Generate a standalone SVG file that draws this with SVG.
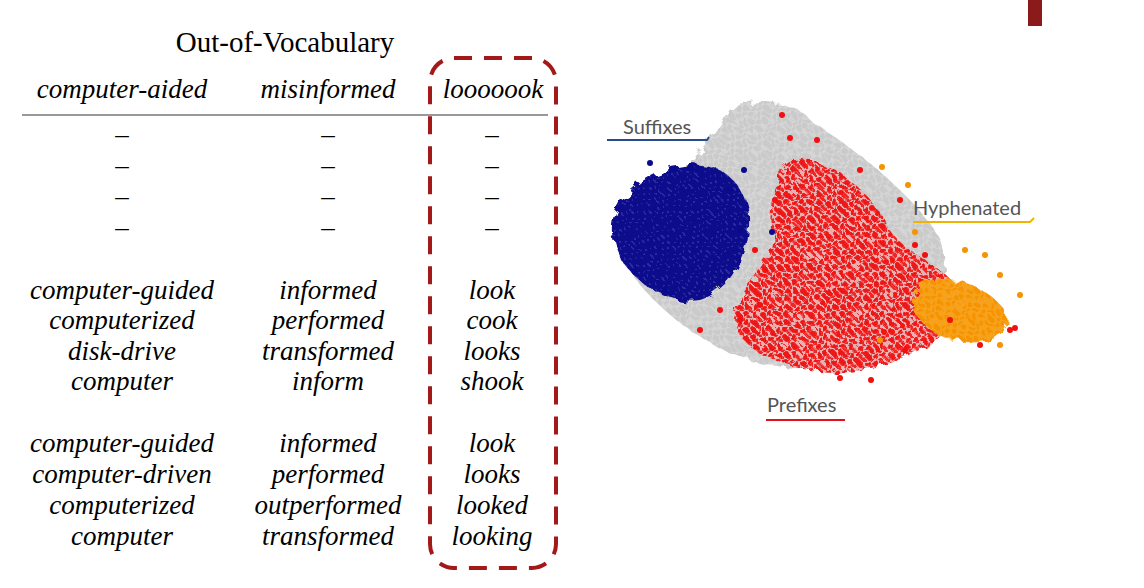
<svg xmlns="http://www.w3.org/2000/svg" width="1144" height="588" viewBox="0 0 1144 588">
<style>
.t{font-family:"Liberation Serif",serif;font-size:27px;font-style:italic;fill:#000;text-anchor:middle}
.lb{font-family:Lato,"Liberation Sans",sans-serif;font-size:20px;fill:#555}
</style>
<defs>
<pattern id="pg" width="7" height="7" patternUnits="userSpaceOnUse"><rect width="7" height="7" fill="#d6d6d6"/><circle cx="3.5" cy="3.5" r="3" fill="#cacaca"/></pattern>
<pattern id="pb" width="6" height="6" patternUnits="userSpaceOnUse"><rect width="6" height="6" fill="#0a0a8c"/><circle cx="2" cy="2" r="1.3" fill="#2b2ba0"/></pattern>
<pattern id="pr" width="8" height="8" patternUnits="userSpaceOnUse"><rect width="8" height="8" fill="#e8b0b0"/><circle cx="3" cy="3" r="3" fill="#f01010"/><circle cx="7" cy="7" r="2.6" fill="#f31a1a"/></pattern>
<pattern id="po" width="7" height="7" patternUnits="userSpaceOnUse"><rect width="7" height="7" fill="#f7a21e"/><circle cx="3" cy="3" r="2.5" fill="#f59300"/></pattern>
<filter id="rough" x="-10%" y="-10%" width="120%" height="120%"><feTurbulence type="fractalNoise" baseFrequency="0.09" numOctaves="2" seed="3"/><feDisplacementMap in="SourceGraphic" scale="14"/></filter>
</defs>
<rect width="1144" height="588" fill="#fff"/>
<rect x="1028" y="0" width="14" height="26" fill="#8b1a1a"/>
<g id="table">
<text x="285" y="52" style="font-family:'Liberation Serif',serif;font-size:29px;text-anchor:middle">Out-of-Vocabulary</text>
<text class="t" x="122" y="98">computer-aided</text>
<text class="t" x="328" y="98">misinformed</text>
<text class="t" x="493" y="98">looooook</text>
<line x1="22" y1="115" x2="548" y2="115" stroke="#777" stroke-width="1.5"/>
<text class="t" x="122" y="143">–</text><text class="t" x="328" y="143">–</text><text class="t" x="492" y="143">–</text>
<text class="t" x="122" y="174">–</text><text class="t" x="328" y="174">–</text><text class="t" x="492" y="174">–</text>
<text class="t" x="122" y="205">–</text><text class="t" x="328" y="205">–</text><text class="t" x="492" y="205">–</text>
<text class="t" x="122" y="236">–</text><text class="t" x="328" y="236">–</text><text class="t" x="492" y="236">–</text>
<text class="t" x="122" y="299">computer-guided</text><text class="t" x="328" y="299">informed</text><text class="t" x="492" y="299">look</text>
<text class="t" x="122" y="329">computerized</text><text class="t" x="328" y="329">performed</text><text class="t" x="492" y="329">cook</text>
<text class="t" x="122" y="360">disk-drive</text><text class="t" x="328" y="360">transformed</text><text class="t" x="492" y="360">looks</text>
<text class="t" x="122" y="390">computer</text><text class="t" x="328" y="390">inform</text><text class="t" x="492" y="390">shook</text>
<text class="t" x="122" y="452">computer-guided</text><text class="t" x="328" y="452">informed</text><text class="t" x="492" y="452">look</text>
<text class="t" x="122" y="483">computer-driven</text><text class="t" x="328" y="483">performed</text><text class="t" x="492" y="483">looks</text>
<text class="t" x="122" y="514">computerized</text><text class="t" x="328" y="514">outperformed</text><text class="t" x="492" y="514">looked</text>
<text class="t" x="122" y="545">computer</text><text class="t" x="328" y="545">transformed</text><text class="t" x="492" y="545">looking</text>
<rect x="430" y="58" width="126" height="510" rx="24" fill="none" stroke="#a31818" stroke-width="4" stroke-dasharray="18 12"/>
</g>
<g id="plot">
<path filter="url(#rough)" d="M738 104 C770 96 800 105 812 122 C840 140 870 160 905 195 C935 225 955 255 940 290 C925 330 880 360 820 368 C770 372 720 352 690 330 C655 305 625 275 614 235 C612 205 640 180 690 165 C705 150 720 120 738 104 Z" fill="url(#pg)"/>
<path filter="url(#rough)" d="M612 225 C615 190 650 168 690 164 C720 165 745 180 748 215 C750 255 730 290 700 300 C670 305 640 285 625 265 C615 250 611 238 612 225 Z" fill="url(#pb)"/>
<path filter="url(#rough)" d="M790 160 C830 155 870 190 890 230 C910 260 960 270 960 300 C960 340 900 365 840 372 C790 372 745 355 735 325 C728 295 760 285 770 250 C775 215 770 170 790 160 Z" fill="url(#pr)" opacity="0.95"/>
<path filter="url(#rough)" d="M920 285 C945 270 985 285 1005 310 C1015 330 995 345 965 342 C935 340 912 318 912 300 Z" fill="url(#po)"/>
<g fill="#f01010">
<circle cx="782" cy="115" r="3"/><circle cx="790" cy="138" r="3"/><circle cx="817" cy="140" r="3"/><circle cx="860" cy="170" r="3"/><circle cx="900" cy="200" r="3"/><circle cx="915" cy="245" r="3"/><circle cx="925" cy="255" r="3"/><circle cx="1015" cy="328" r="3"/><circle cx="1010" cy="330" r="3"/><circle cx="871" cy="380" r="3"/><circle cx="980" cy="345" r="3"/><circle cx="760" cy="305" r="3"/><circle cx="740" cy="320" r="3"/><circle cx="700" cy="330" r="3"/><circle cx="840" cy="378" r="3"/><circle cx="950" cy="320" r="3"/><circle cx="905" cy="350" r="3"/><circle cx="765" cy="270" r="3"/><circle cx="775" cy="200" r="3"/><circle cx="755" cy="250" r="3"/><circle cx="720" cy="310" r="3"/>
</g>
<g fill="#0a0a8c">
<circle cx="650" cy="163" r="3"/><circle cx="672" cy="170" r="3"/><circle cx="690" cy="168" r="3"/><circle cx="744" cy="170" r="3"/><circle cx="730" cy="190" r="3"/><circle cx="740" cy="230" r="3"/><circle cx="772" cy="232" r="3"/><circle cx="665" cy="290" r="3"/><circle cx="635" cy="272" r="3"/>
</g>
<g fill="#f59300">
<circle cx="882" cy="167" r="3"/><circle cx="908" cy="185" r="3"/><circle cx="915" cy="232" r="3"/><circle cx="965" cy="250" r="3"/><circle cx="985" cy="255" r="3"/><circle cx="1000" cy="275" r="3"/><circle cx="1020" cy="295" r="3"/><circle cx="1000" cy="345" r="3"/><circle cx="880" cy="340" r="3"/>
</g>
</g>
<g id="labels">
<text class="lb" x="623" y="134">Suffixes</text>
<path d="M607 140 H707 L709 137" stroke="#2b4c8c" stroke-width="2" fill="none"/>
<text class="lb" x="913" y="215">Hyphenated</text>
<path d="M913 222 H1030 L1034 218" stroke="#f0b400" stroke-width="2" fill="none"/>
<text class="lb" x="767" y="412">Prefixes</text>
<path d="M766 420 H845" stroke="#e01020" stroke-width="2" fill="none"/>
</g>
</svg>
